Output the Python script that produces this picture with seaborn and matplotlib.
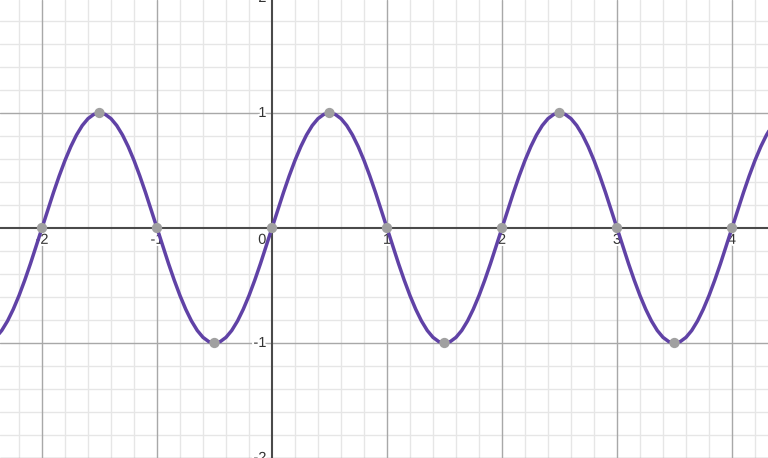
import numpy as np
import pandas as pd
import matplotlib
matplotlib.use("Agg")
import matplotlib.pyplot as plt
import matplotlib.patheffects as pe
import seaborn as sns

curve_x = np.round(np.linspace(-2.4, 4.35, 136), 2)
curve_y = [
    -0.951, -0.891, -0.809, -0.707, -0.588, -0.454, -0.309, -0.156,
    0.0, 0.156, 0.309, 0.454, 0.588, 0.707, 0.809, 0.891, 0.951, 0.988,
    1.0, 0.988, 0.951, 0.891, 0.809, 0.707, 0.588, 0.454, 0.309, 0.156,
    0.0, -0.156, -0.309, -0.454, -0.588, -0.707, -0.809, -0.891, -0.951, -0.988,
    -1.0, -0.988, -0.951, -0.891, -0.809, -0.707, -0.588, -0.454, -0.309, -0.156,
    0.0, 0.156, 0.309, 0.454, 0.588, 0.707, 0.809, 0.891, 0.951, 0.988,
    1.0, 0.988, 0.951, 0.891, 0.809, 0.707, 0.588, 0.454, 0.309, 0.156,
    0.0, -0.156, -0.309, -0.454, -0.588, -0.707, -0.809, -0.891, -0.951, -0.988,
    -1.0, -0.988, -0.951, -0.891, -0.809, -0.707, -0.588, -0.454, -0.309, -0.156,
    0.0, 0.156, 0.309, 0.454, 0.588, 0.707, 0.809, 0.891, 0.951, 0.988,
    1.0, 0.988, 0.951, 0.891, 0.809, 0.707, 0.588, 0.454, 0.309, 0.156,
    0.0, -0.156, -0.309, -0.454, -0.588, -0.707, -0.809, -0.891, -0.951, -0.988,
    -1.0, -0.988, -0.951, -0.891, -0.809, -0.707, -0.588, -0.454, -0.309, -0.156,
    0.0, 0.156, 0.309, 0.454, 0.588, 0.707, 0.809, 0.891,
]

# highlighted points (zeros and extrema)
point_x = [-2, -1.5, -1, -0.5, 0, 0.5, 1, 1.5, 2, 2.5, 3, 3.5, 4]
point_y = [0, 1, 0, -1, 0, 1, 0, -1, 0, 1, 0, -1, 0]

x_tick_labels = ["-2", "-1", "1", "2", "3", "4"]
x_tick_vals = [-2, -1, 1, 2, 3, 4]
y_tick_labels = ["2", "1", "-1", "-2"]
y_tick_vals = [2, 1, -1, -2]

curve_df = pd.DataFrame({"x": curve_x, "y": curve_y})
pts_df = pd.DataFrame({"x": point_x, "y": point_y})

sns.set_style("white")
plt.rcParams["font.family"] = ["Liberation Sans", "DejaVu Sans"]

fig = plt.figure(figsize=(7.68, 4.58), dpi=100)
ax = fig.add_axes([0, 0, 1, 1])

xmin, xmax = -272 / 115, (768 - 272) / 115
ymin, ymax = -(458 - 228) / 115, 228 / 115
ax.set_xlim(xmin, xmax)
ax.set_ylim(ymin, ymax)

# grid
for v in np.arange(-3, 5.01, 0.2):
    if abs(v - round(v)) < 1e-6:
        continue
    ax.axvline(v, color="#e6e6e6", lw=1.0, zorder=0)
for v in np.arange(-3, 3.01, 0.2):
    if abs(v - round(v)) < 1e-6:
        continue
    ax.axhline(v, color="#e6e6e6", lw=1.0, zorder=0)
for v in range(-3, 6):
    if v != 0:
        ax.axvline(v, color="#a8a8a8", lw=1.0, zorder=1)
for v in range(-3, 4):
    if v != 0:
        ax.axhline(v, color="#a8a8a8", lw=1.0, zorder=1)
ax.axhline(0, color="#4a4a4a", lw=1.5, zorder=2)
ax.axvline(0, color="#4a4a4a", lw=1.5, zorder=2)

halo = [pe.withStroke(linewidth=3, foreground="white")]
for v, lab in zip(x_tick_vals, x_tick_labels):
    ax.annotate(lab, (v, 0), xytext=(0, -3.5), textcoords="offset points",
                ha="center", va="top", fontsize=10.5, color="#333333",
                path_effects=halo, zorder=3, annotation_clip=False)
for v, lab in zip(y_tick_vals, y_tick_labels):
    ax.annotate(lab, (0, v), xytext=(-4, 0), textcoords="offset points",
                ha="right", va="center", fontsize=10.5, color="#333333",
                path_effects=halo, zorder=3, annotation_clip=False)
ax.annotate("0", (0, 0), xytext=(-4, -3.5), textcoords="offset points",
            ha="right", va="top", fontsize=10.5, color="#333333",
            path_effects=halo, zorder=3, annotation_clip=False)

sns.lineplot(data=curve_df, x="x", y="y", ax=ax, color="#6042a6", lw=2.5,
             sort=False, zorder=4)
sns.scatterplot(data=pts_df, x="x", y="y", ax=ax, color="#a0a0a0", s=55,
                edgecolor="none", zorder=5)

ax.set_xticks([])
ax.set_yticks([])
ax.set_xlabel("")
ax.set_ylabel("")
for s in ax.spines.values():
    s.set_visible(False)

fig.savefig("out.png", dpi=100)
